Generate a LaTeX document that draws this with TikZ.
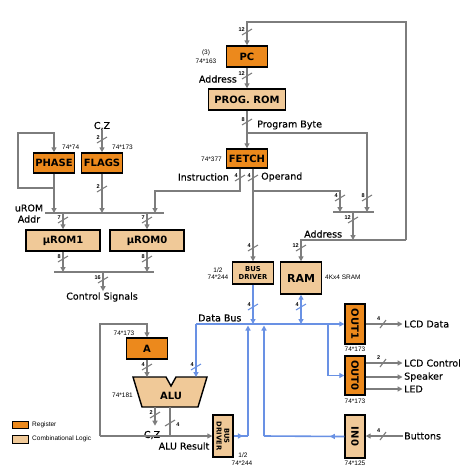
\documentclass[tikz,border=0pt]{standalone}
\usepackage{fontspec}
\setmainfont{DejaVu Sans}
\newfontfamily\sigf{DejaVu Sans}[FakeBold=0.35]
\newfontfamily\chipf{Liberation Sans}
\usetikzlibrary{arrows.meta,decorations.markings}
\definecolor{wgray}{RGB}{125,125,125}
\definecolor{bblue}{RGB}{105,145,228}
\definecolor{regc}{RGB}{236,137,28}
\definecolor{combc}{RGB}{240,201,152}
\tikzset{
 wire/.style={draw=wgray,line width=1.6pt},
 bwire/.style={draw=bblue,line width=1.6pt},
 bar/.style={draw=wgray,line width=2.4pt},
 tip/.style={-{Triangle[length=5pt,width=5pt]}},
 tips/.style={{Triangle[length=5pt,width=5pt]}-{Triangle[length=5pt,width=5pt]}},
 midtip/.style={postaction={decorate},decoration={markings,mark=at position #1 with {\arrow[bblue]{Triangle[length=5pt,width=5pt]}}}},
 box/.style={draw=black,line width=1.4pt,inner sep=0pt,font=\fontsize{10}{12}\selectfont\bfseries},
 reg/.style={box,fill=regc},
 comb/.style={box,fill=combc},
 sig/.style={font=\sigf\fontsize{9.5}{11}\selectfont,inner sep=0pt},
 chip/.style={font=\chipf\fontsize{6.5}{7}\selectfont,inner sep=0pt},
 bits/.style={font=\chipf\bfseries\fontsize{5.5}{6}\selectfont,inner sep=0pt},
 drv/.style={font=\fontsize{6.8}{7.6}\selectfont\bfseries,align=center,inner sep=0pt},
}
\newcommand{\VSlash}[4][wgray]{\draw[draw=#1,line width=1.1pt] (#2-5,#3+3) -- (#2+5,#3-3); \node[bits,anchor=south east] at (#2-2,#3-0.5) {#4};}
\newcommand{\HSlash}[4][wgray]{\draw[draw=#1,line width=1.1pt] (#2-3,#3+4) -- (#2+3,#3-4); \node[bits,anchor=south east] at (#2-2.5,#3-3.5) {#4};}
\begin{document}
\begin{tikzpicture}[x=1pt,y=-1pt]
\fill[white] (0,0) rectangle (474,472);
\useasboundingbox (0,0) rectangle (474,472);

% ---------- boxes ----------
\node[reg,minimum width=41pt,minimum height=21pt] (PC) at (247,56.5) {PC};
\node[comb,minimum width=77pt,minimum height=21pt] (ROM) at (247,99.5) {PROG. ROM};
\node[reg,minimum width=41pt,minimum height=19pt] (FETCH) at (247,158.5) {FETCH};
\node[reg,minimum width=41pt,minimum height=20pt] (PHASE) at (54,163) {PHASE};
\node[reg,minimum width=41pt,minimum height=20pt] (FLAGS) at (102,163) {FLAGS};
\node[comb,minimum width=74pt,minimum height=21pt] (ROM1) at (63,240.5) {µROM1};
\node[comb,minimum width=74pt,minimum height=21pt] (ROM0) at (147,240.5) {µROM0};
\node[comb,minimum width=41pt,minimum height=22pt] (BD) at (253,273) {};
\node[drv] (BDt) at (BD) {BUS\\DRIVER};
\node[comb,minimum width=41pt,minimum height=32pt,font=\fontsize{11}{13}\selectfont\bfseries] (RAM) at (301,278) {RAM};
\node[reg,minimum width=41pt,minimum height=21pt] (A) at (147,348.5) {A};
\node[comb,minimum width=20pt,minimum height=42pt] (ABD) at (223,436) {};
\node[drv,rotate=-90] (ABDt) at (ABD) {BUS\\DRIVER};
\node[reg,minimum width=20pt,minimum height=40pt] (OUT1) at (355,324) {};
\node[rotate=-90,font=\fontsize{10}{12}\selectfont\bfseries,inner sep=0pt] (OUT1t) at (OUT1) {OUT1};
\node[reg,minimum width=20pt,minimum height=39pt] (OUT0) at (355,375.5) {};
\node[rotate=-90,font=\fontsize{10}{12}\selectfont\bfseries,inner sep=0pt] (OUT0t) at (OUT0) {OUT0};
\node[comb,minimum width=20pt,minimum height=43pt] (IN0) at (355,436.5) {};
\node[rotate=-90,font=\fontsize{10}{12}\selectfont\bfseries,inner sep=0pt] (IN0t) at (IN0) {IN0};

% ALU
\draw[line width=1.4pt,fill=combc,line join=miter] (133,377) -- (166,377) -- (171,386) -- (176,377) -- (207,377) -- (198,407) -- (142,407) -- cycle;
\node[font=\fontsize{10}{12}\selectfont\bfseries,inner sep=0pt] (ALU) at (171,396) {ALU};
\coordinate (aluA) at (147,377);
\coordinate (aluB) at (196,377);
\coordinate (aluCZ) at (155,407);
\coordinate (aluR) at (170,407);

% ---------- coordinates ----------
\coordinate (topL) at (247,22);
\coordinate (topR) at (406,22);
\coordinate (addrR) at (406,240);
\coordinate (addrL) at (301,240);
\coordinate (pbJ) at (247,133);
\coordinate (b2in2) at (367,212);
\coordinate (opJ) at (253,191);
\coordinate (b2in1) at (340,212);
\coordinate (b2L) at (333,212);
\coordinate (b2R) at (374,212);
\coordinate (b2C) at (353,212);
\coordinate (insJ) at (240,191);
\coordinate (uin) at (155,213);
\coordinate (ub1) at (45,213);
\coordinate (ub2) at (164,213);
\coordinate (phJ) at (54,188);
\coordinate (phA) at (18,188);
\coordinate (phB) at (18,133);
\coordinate (phC) at (54,133);
\coordinate (lb1) at (54,272);
\coordinate (lb2) at (154,272);
\coordinate (lbc) at (103,272);
\coordinate (busL) at (196,324);
\coordinate (busJ) at (328,324);
\coordinate (abdo) at (248,436);
\coordinate (in0j) at (264,436);
\coordinate (resJ) at (170,436);
\coordinate (resL) at (100,436);
\coordinate (aTop) at (100,324);
\coordinate (aTop2) at (147,324);

% ---------- labels ----------
\node[sig] (CZ) at (102,126) {C,Z};
\node[sig] (ctrl) at (102,297) {Control Signals};
\node[sig] (urom) at (29,208) {uROM};
\node[sig] (uaddr) at (29,219) {Addr};
\node[sig,anchor=east] (lAddr1) at (237,79) {Address};
\node[sig,anchor=west] (lPB) at (257,125) {Program Byte};
\node[sig,anchor=east] (lIns) at (229,177) {Instruction};
\node[sig,anchor=west] (lOp) at (261,177) {Operand};
\node[sig,anchor=west] (lAddr2) at (304,234) {Address};
\node[sig,anchor=west] (lDB) at (198,318) {Data Bus};
\node[sig] (lRes) at (184,446) {ALU Result};
\node[sig] (cz2) at (152,435) {C,Z};
\node[sig,anchor=west] (lcdd) at (404,324) {LCD Data};
\node[sig,anchor=west] (lcdc) at (404,363) {LCD Control};
\node[sig,anchor=west] (spk) at (404,377) {Speaker};
\node[sig,anchor=west] (led) at (404,389) {LED};
\node[sig,anchor=west] (btn) at (404,436) {Buttons};

\node[chip] (c1) at (206,53) {(3)};
\node[chip] (c2) at (206,61) {74*163};
\node[chip,anchor=east] (c3) at (222,159) {74*377};
\node[chip] (c4) at (218,270) {1/2};
\node[chip] (c5) at (218,277) {74*244};
\node[chip,anchor=west] (c6) at (325,277) {4Kx4 SRAM};
\node[chip,anchor=west] (c7) at (62,147) {74*74};
\node[chip,anchor=west] (c8) at (112,147) {74*173};
\node[chip] (c9) at (124,333) {74*173};
\node[chip,anchor=east] (c10) at (133,395) {74*181};
\node[chip] (c11) at (243,455) {1/2};
\node[chip] (c12) at (242,463) {74*244};
\node[chip] (c13) at (355,349.5) {74*173};
\node[chip] (c14) at (355,401) {74*173};
\node[chip] (c15) at (355,463.5) {74*125};

% legend
\node[draw=black,line width=0.8pt,fill=regc,minimum width=16pt,minimum height=7pt,inner sep=0pt] (lg1) at (20,424.5) {};
\node[chip,anchor=west] (lg1t) at (32,424.5) {Register};
\node[draw=black,line width=0.8pt,fill=combc,minimum width=16pt,minimum height=8pt,inner sep=0pt] (lg2) at (20,439) {};
\node[chip,anchor=west] (lg2t) at (32,439) {Combinational Logic};

% ---------- gray wires ----------
\draw[wire,tip] (addrR) -- (topR) -- (topL) -- (PC.north);
\draw[wire,tip] (PC.south) -- (ROM.north);
\draw[wire,tip] (ROM.south) -- (FETCH.north);
\draw[wire,tip] (pbJ) -| (b2in2);
\draw[wire,tip] (BD.north |- FETCH.south) -- (BD.north);
\draw[wire,tip] (opJ) -| (b2in1);
\draw[bar] (b2L) -- (b2R);
\draw[wire,tip] (b2C) -- (b2C |- addrR);
\draw[wire,tip] (addrR) -- (addrL) -- (RAM.north);
\draw[wire,tip] (insJ |- FETCH.south) -- (insJ) -| (uin);
\draw[bar] (ub1) -- (ub2);
\draw[wire,tip] (PHASE.south) -- (PHASE.south |- ub1);
\draw[wire,tip] (phJ) -- (phA) -- (phB) -- (phC) -- (PHASE.north);
\draw[wire,tip] (CZ.south) -- (FLAGS.north);
\draw[wire,tip] (FLAGS.south) -- (FLAGS.south |- ub1);
\draw[wire,tip] (ROM1.north |- ub1) -- (ROM1.north);
\draw[wire,tip] (ROM0.north |- ub1) -- (ROM0.north);
\draw[bar] (lb1) -- (lb2);
\draw[wire,tip] (ROM1.south) -- (ROM1.south |- lb1);
\draw[wire,tip] (ROM0.south) -- (ROM0.south |- lb1);
\draw[wire,tip,shorten >=1pt] (lbc) -- (lbc |- ctrl.north);

\draw[wire,tip] (A.south) -- (aluA);
\draw[wire,tip,shorten >=5pt] (aluCZ) -- (aluCZ |- cz2.north);
\draw[wire] (aluR) -- (resJ);
\draw[wire,tip] (resL) -- (ABD.west);
\draw[wire,tip] (resL) -- (aTop) -- (aTop2) -- (A.north);

\draw[wire,tip,shorten >=1.5pt] (OUT1.east) -- (lcdd.west);
\draw[wire,tip,shorten >=1.5pt] (OUT0.east |- lcdc.west) -- (lcdc.west);
\draw[wire,tip,shorten >=1.5pt] (OUT0.east |- spk.west) -- (spk.west);
\draw[wire,tip,shorten >=1.5pt] (OUT0.east |- led.west) -- (led.west);
\draw[wire,tip,shorten <=1.5pt] (btn.west) -- (IN0.east |- btn.west);

% ---------- blue wires ----------
\draw[bwire,tip] (BD.south) -- (BD.south |- busL);
\draw[bwire,tips] (RAM.south) -- (RAM.south |- busL);
\draw[bwire,tip] (busL) -- (OUT1.west);
\draw[bwire,tip] (busL) -- (aluB);
\draw[bwire,tip] (busJ) |- (OUT0.west);
\draw[bwire,midtip=0.65] (ABD.east) -- (abdo);
\draw[bwire,tip,shorten >=1.5pt] (abdo) -- (abdo |- busL);
\draw[bwire,midtip=0.18] (IN0.west) -- (in0j);
\draw[bwire,tip,shorten >=1.5pt] (in0j) -- (in0j |- busL);

% ---------- bit-width slashes ----------
\VSlash{247}{32}{12}
\VSlash{247}{76}{12}
\VSlash{247}{122}{8}
\VSlash{240}{178}{4}
\VSlash{253}{178}{4}
\VSlash{253}{248}{4}
\VSlash{340}{198}{4}
\VSlash{367}{198}{8}
\VSlash{353}{220}{12}
\VSlash{301}{248}{12}
\VSlash{102}{140}{2}
\VSlash{102}{189}{2}
\VSlash{63}{220}{7}
\VSlash{147}{220}{7}
\VSlash{63}{259}{8}
\VSlash{147}{259}{8}
\VSlash{103}{280}{16}
\VSlash[bblue]{253}{307}{4}
\VSlash[bblue]{301}{307}{4}
\VSlash{147}{367}{4}
\VSlash[bblue]{196}{367}{4}
\VSlash{155}{415}{2}
\draw[draw=wgray,line width=1.1pt] (165,426) -- (175,420);
\node[bits] (rb) at (178,425) {4};
\HSlash{383}{324}{4}
\HSlash{383}{363}{2}
\HSlash{383}{436}{4}
\end{tikzpicture}
\end{document}
